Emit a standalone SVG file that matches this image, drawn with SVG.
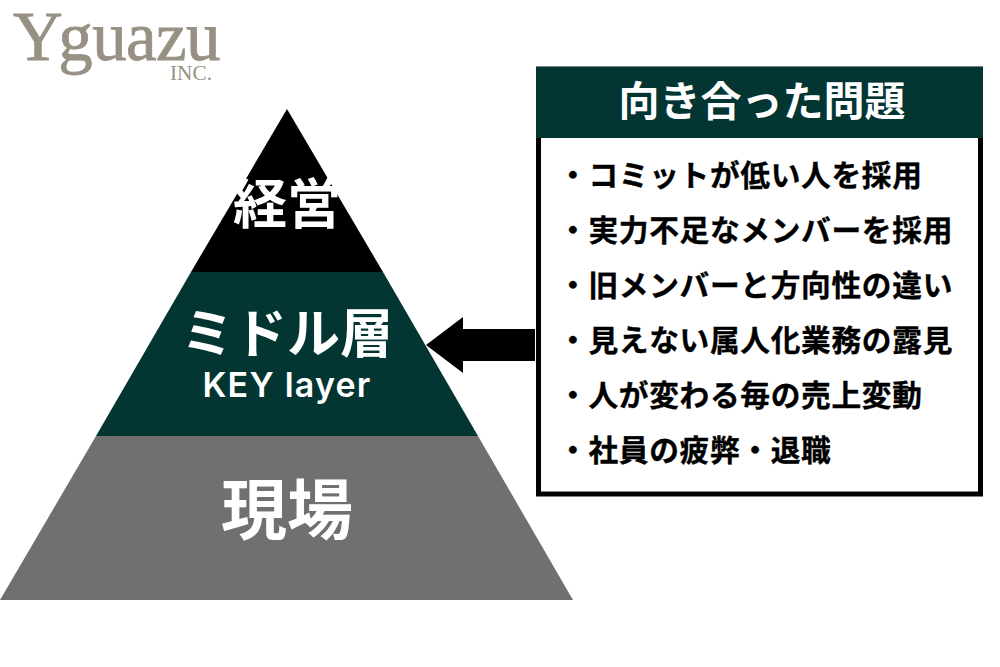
<svg xmlns="http://www.w3.org/2000/svg" width="1000" height="667" viewBox="0 0 1000 667">
<style>
text{font-family:"Noto Sans CJK JP","Noto Sans",sans-serif;font-weight:700}
.li{font-size:29.7px;fill:#000;letter-spacing:0.7px;stroke:#000;stroke-width:.35px}
.w{fill:#fff}
.serif{font-family:"Liberation Serif",serif;font-weight:400}
</style>
<rect width="1000" height="667" fill="#fff"/>
<g id="logo" fill="#979183">
<text class="serif" x="13" y="60" font-size="69" letter-spacing="-.6" stroke="#979183" stroke-width=".8">Y<tspan dx="-4">guazu</tspan></text>
<text class="serif" x="170" y="80" font-size="20" textLength="42" lengthAdjust="spacingAndGlyphs">INC.</text>
</g>
<g id="tier-top"><polygon points="287,109 383,272 191,272" fill="#000"/><text class="w" x="287" y="224" font-size="54" text-anchor="middle">経営</text></g>
<g id="tier-middle"><polygon points="191,272 383,272 478,436 96,436" fill="#033533"/><text class="w" x="287" y="353" font-size="53" text-anchor="middle">ミドル層</text><text class="w" x="287" y="397" font-size="34" text-anchor="middle" letter-spacing="1.2" style="font-family:Inter,sans-serif;font-weight:600">KEY layer</text></g>
<g id="tier-bottom"><polygon points="96,436 478,436 573,600 0,600" fill="#707070"/><text class="w" x="287" y="534" font-size="66" text-anchor="middle">現場</text></g>
<g id="connectors"><polygon points="426,345 463,317 463,329 535,329 535,361 463,361 463,373" fill="#000"/></g>
<g id="problems">
<rect x="538.500" y="69" width="442" height="425" fill="#fff" stroke="#000" stroke-width="5"/>
<rect x="536" y="67" width="447" height="71" fill="#033533"/>
<text class="w" x="762" y="116" font-size="41" text-anchor="middle">向き合った問題</text>
<text class="li" x="558" y="185.500">・コミットが低い人を採用</text>
<text class="li" x="558" y="240.500">・実力不足なメンバーを採用</text>
<text class="li" x="558" y="295.500">・旧メンバーと方向性の違い</text>
<text class="li" x="558" y="350.500">・見えない属人化業務の露見</text>
<text class="li" x="558" y="405.500">・人が変わる毎の売上変動</text>
<text class="li" x="558" y="460.500">・社員の疲弊・退職</text>
</g>
</svg>
